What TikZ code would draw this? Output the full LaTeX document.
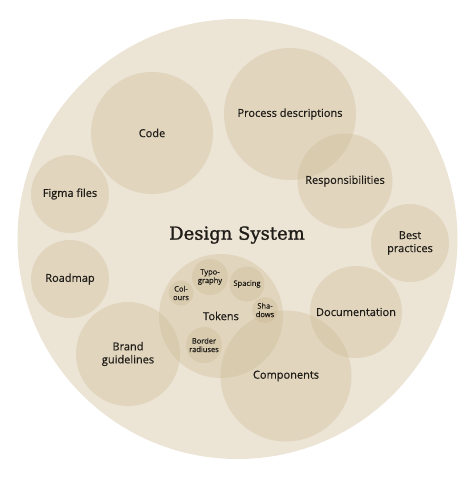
\documentclass[tikz,border=0pt]{standalone}
\usepackage{fontspec}
\setsansfont{Open Sans}[FakeBold=0.5]
\newfontfamily\titlefont{DejaVu Serif}[FakeBold=1.2]
\definecolor{dsback}{HTML}{ECE4D5}
\definecolor{dsbubble}{HTML}{C9B48A}
\definecolor{dstext}{HTML}{1F1C18}

\begin{document}
\begin{tikzpicture}[x=1pt, y=-1pt, font=\sffamily\fontsize{11}{13}\selectfont, text=dstext,
bubble/.style={circle, fill=dsbubble, fill opacity=0.3, text opacity=1, inner sep=0pt, outer sep=0pt, align=center},
token/.style={bubble, font=\sffamily\fontsize{7.5}{8.5}\selectfont},]
 \useasboundingbox (0,0) rectangle (474,477);
 \node[circle, fill=dsback, minimum size=440pt, inner sep=0pt] (system) at (237.5,239) {};

 \node[bubble, minimum size=122pt] (code) at (152,133) {Code};
 \node[bubble, minimum size=132pt] (process) at (290,114) {Process descriptions};
 \node[bubble, minimum size=95pt] (resp) at (345,181) {Responsibilities};
 \node[bubble, minimum size=78pt] (figma) at (70,194) {Figma files};
 \node[bubble, minimum size=78pt] (best) at (410,243) {Best\\practices};
 \node[bubble, minimum size=78pt] (roadmap) at (70,279) {Roadmap};
 \node[bubble, minimum size=92pt] (docs) at (356,312) {Documentation};
 \node[bubble, minimum size=104pt] (brand) at (128,354) {Brand\\guidelines};
 \node[bubble, minimum size=131pt] (comp) at (286,376) {Components};
 \node[bubble, minimum size=124pt] (tokens) at (221,316) {Tokens};

 \node[token, minimum size=36pt] (typo) at (210,277) {Typo-\\graphy};
 \node[token, minimum size=35pt] (spacing) at (247,284) {Spacing};
 \node[token, minimum size=25pt] (colours) at (181,293) {Col-\\ours};
 \node[token, minimum size=26pt] (shadows) at (265,310) {Sha-\\dows};
 \node[token, minimum size=36pt] (border) at (204,345) {Border\\radiuses};

 \node[font=\titlefont\fontsize{18}{22}\selectfont] (title) at (237,235) {Design System};
\end{tikzpicture}
\end{document}
